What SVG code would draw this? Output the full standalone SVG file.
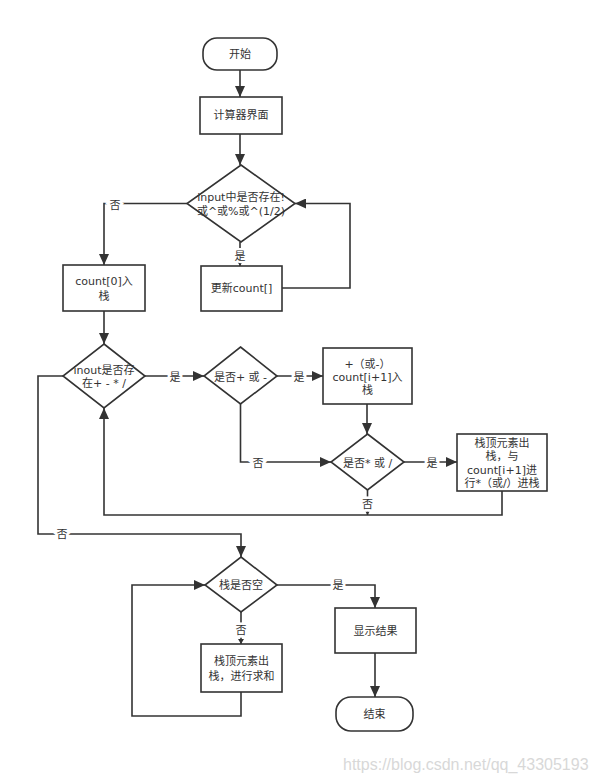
<svg xmlns="http://www.w3.org/2000/svg" width="596" height="782" viewBox="0 0 596 782">
<style>
.n{fill:#fff;stroke:#333;stroke-width:1.6}
.t{font-family:"DejaVu Sans","Noto Sans CJK SC",sans-serif;font-size:11px;fill:#333;text-anchor:middle;dominant-baseline:central}
.c{fill:none;stroke:#333;stroke-width:1.6}
.l{font-family:"DejaVu Sans","Noto Sans CJK SC",sans-serif;font-size:11px;fill:#333;text-anchor:middle;dominant-baseline:central;paint-order:stroke;stroke:#fff;stroke-width:5px}
.wm{font-family:"Liberation Sans",Arial,sans-serif;font-size:16px;fill:#d8d8d8}
</style>
<defs>
<marker id="a" markerUnits="userSpaceOnUse" markerWidth="12" markerHeight="10" refX="11" refY="5" orient="auto"><path d="M0,0 L11,5 L0,10 Z" fill="#333"/></marker>
<marker id="s" markerUnits="userSpaceOnUse" markerWidth="6" markerHeight="6" refX="5" refY="3" orient="auto"><path d="M0,0 L5,3 L0,6 Z" fill="#333"/></marker>
</defs>
<rect width="596" height="782" fill="#fff"/>
<g id="connectors">
<path class="c" d="M240 70 V97" marker-end="url(#a)"/>
<path class="c" d="M240 134 V165" marker-end="url(#a)"/>
<path class="c" d="M187 203.5 H104 V265" marker-end="url(#a)"/>
<path class="c" d="M240 242 V266" marker-end="url(#s)"/>
<path class="c" d="M282 288 H350 V203.5 H295" marker-end="url(#a)"/>
<path class="c" d="M104 311 V344" marker-end="url(#a)"/>
<path class="c" d="M145 376 H204" marker-end="url(#a)"/>
<path class="c" d="M277 376 H323" marker-end="url(#a)"/>
<path class="c" d="M367 404 V434" marker-end="url(#a)"/>
<path class="c" d="M240.5 404 V462 H331" marker-end="url(#a)"/>
<path class="c" d="M404 462 H457" marker-end="url(#a)"/>
<path class="c" d="M502 491 V515 H104 V408" marker-end="url(#a)"/>
<path class="c" d="M367.5 490 V515" marker-end="url(#s)"/>
<path class="c" d="M63 376 H38 V534 H241 V557" marker-end="url(#a)"/>
<path class="c" d="M277 585 H375 V608" marker-end="url(#a)"/>
<path class="c" d="M375 653 V697" marker-end="url(#a)"/>
<path class="c" d="M241 612 V644" marker-end="url(#s)"/>
<path class="c" d="M241 692 V716 H132 V585 H205" marker-end="url(#a)"/>
<text class="l" x="115" y="205">否</text>
<text class="l" x="240" y="256">是</text>
<text class="l" x="175" y="377">是</text>
<text class="l" x="299" y="377">是</text>
<text class="l" x="258" y="463">否</text>
<text class="l" x="432" y="463">是</text>
<text class="l" x="367.5" y="504">否</text>
<text class="l" x="62" y="534">否</text>
<text class="l" x="338" y="585">是</text>
<text class="l" x="241" y="630">否</text>
</g>
<g id="start"><rect class="n" x="203" y="38" width="74" height="32" rx="14"/><text class="t" x="240" y="54">开始</text></g>
<g id="calc"><rect class="n" x="200" y="97" width="82" height="37"/><text class="t" x="241" y="115.5">计算器界面</text></g>
<g id="d1"><path class="n" d="M241 165 L295 203.5 L241 242 L187 203.5 Z"/><text class="t" x="241" y="197">input中是否存在!</text><text class="t" x="241" y="211">或^或%或^(1/2)</text></g>
<g id="update"><rect class="n" x="201" y="266" width="81" height="45"/><text class="t" x="241.5" y="288.5">更新count[]</text></g>
<g id="count0"><rect class="n" x="63" y="265" width="82" height="46"/><text class="t" x="104" y="281.5">count[0]入</text><text class="t" x="104" y="296">栈</text></g>
<g id="d2"><path class="n" d="M104 344 L145 376 L104 408 L63 376 Z"/><text class="t" x="104" y="370">inout是否存</text><text class="t" x="104" y="383.5">在+ - * /</text></g>
<g id="d3"><path class="n" d="M240.5 347 L277 376 L240.5 404 L204 376 Z"/><text class="t" x="240.5" y="377">是否+ 或 -</text></g>
<g id="pushpm"><rect class="n" x="323" y="348" width="89" height="56"/><text class="t" x="367.5" y="364">+（或-）</text><text class="t" x="367.5" y="377">count[i+1]入</text><text class="t" x="367.5" y="390">栈</text></g>
<g id="d4"><path class="n" d="M367.5 434 L404 462 L367.5 490 L331 462 Z"/><text class="t" x="367.5" y="463">是否* 或 /</text></g>
<g id="popmul"><rect class="n" x="457" y="434" width="90" height="57"/><text class="t" x="502" y="443.5">栈顶元素出</text><text class="t" x="502" y="456.5">栈，与</text><text class="t" x="502" y="470">count[i+1]进</text><text class="t" x="502" y="483">行*（或/）进栈</text></g>
<g id="d5"><path class="n" d="M241 557 L277 585 L241 612 L205 585 Z"/><text class="t" x="241" y="585">栈是否空</text></g>
<g id="show"><rect class="n" x="335" y="608" width="81" height="45"/><text class="t" x="375.5" y="631">显示结果</text></g>
<g id="sum"><rect class="n" x="201" y="644" width="81" height="48"/><text class="t" x="241.5" y="661">栈顶元素出</text><text class="t" x="241.5" y="676">栈，进行求和</text></g>
<g id="end"><rect class="n" x="336" y="697" width="77" height="34" rx="15"/><text class="t" x="374.5" y="714">结束</text></g>
<text class="wm" x="343" y="770">https://blog.csdn.net/qq_43305193</text>
</svg>
